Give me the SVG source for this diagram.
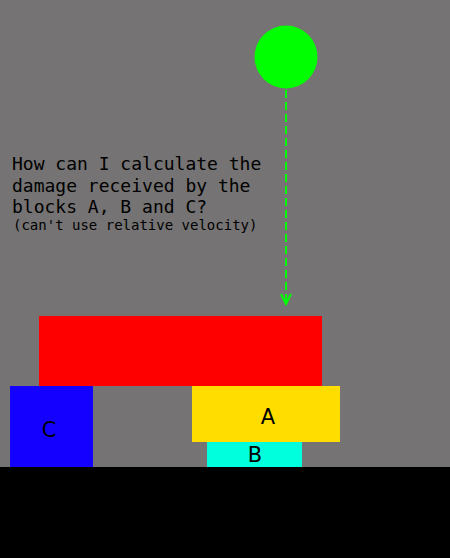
<svg xmlns="http://www.w3.org/2000/svg" width="450" height="558" viewBox="0 0 450 558">
<style>
.q{font-family:"DejaVu Sans Mono","Liberation Mono",monospace;fill:#000}
.lbl{font-family:"DejaVu Sans","Liberation Sans",sans-serif;font-size:21px;fill:#000;text-anchor:middle}
</style>
<rect x="0" y="0" width="450" height="558" fill="#757373"/>
<rect id="ground" x="0" y="467" width="450" height="91" fill="#000"/>
<g id="ball"><circle cx="286" cy="57" r="31.5" fill="#00ff00"/></g>
<g id="connectors">
<line x1="286" y1="90" x2="286" y2="302" stroke="#00ff00" stroke-width="2" stroke-dasharray="8,4"/>
<polyline points="281,294 286,304 291,294" fill="none" stroke="#00ff00" stroke-width="2"/>
</g>
<g id="question">
<text class="q" font-size="18" x="12" y="170">How can I calculate the</text>
<text class="q" font-size="18" x="12" y="192">damage received by the</text>
<text class="q" font-size="18" x="12" y="213">blocks A, B and C?</text>
<text class="q" font-size="14" x="13" y="230">(can't use relative velocity)</text>
</g>
<g id="red"><rect x="39" y="316" width="283" height="70" fill="#ff0000"/></g>
<g id="C"><rect x="10" y="386" width="83" height="81" fill="#1400ff"/><text class="lbl" x="49" y="437">C</text></g>
<g id="A"><rect x="192" y="386" width="148" height="56" fill="#ffdd00"/><text class="lbl" x="268" y="424">A</text></g>
<g id="B"><rect x="207" y="442" width="95" height="25" fill="#00ffdd"/><text class="lbl" x="255" y="462">B</text></g>
</svg>
